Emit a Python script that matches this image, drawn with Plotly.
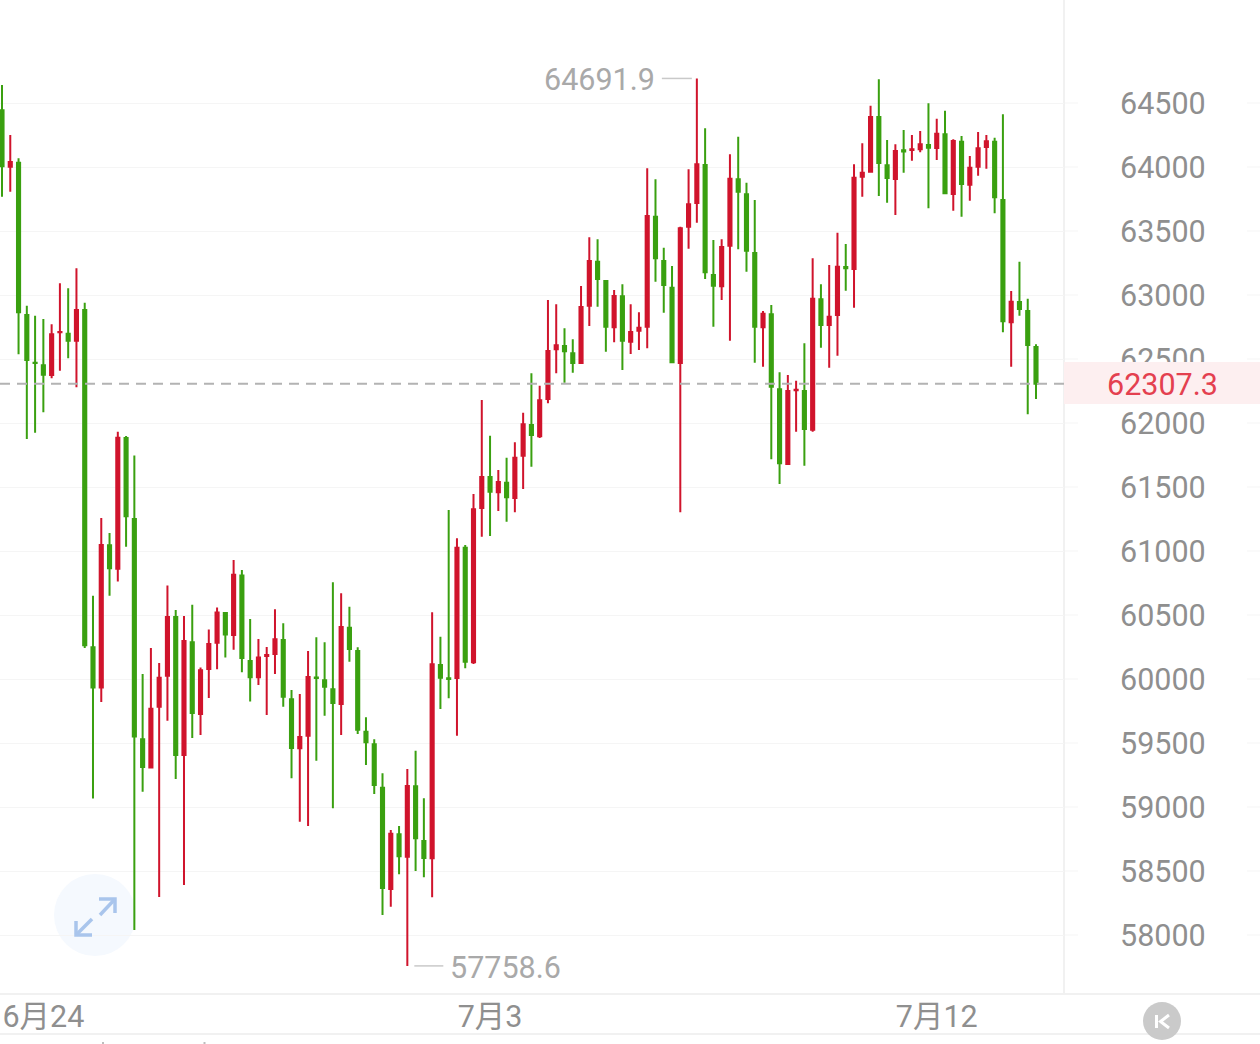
import pandas as pd
import plotly.graph_objects as go

# 4-hour candles, oldest first
opens = [64443, 64002, 64034, 62844, 62471, 62451, 62375, 62709, 62698, 62643,
         62883, 60248, 59933, 61045, 60862, 61883, 61250, 59530, 59308, 59783,
         60025, 60484, 59406, 60287, 59727, 60078, 60284, 60516, 60344, 60809,
         60141, 60013, 60180, 60195, 60305, 59841, 59459, 59557, 60012, 59990,
         59920, 59805, 60401, 60219, 59588, 59490, 59151, 58359, 58787, 58612,
         59162, 58734, 58599, 60109, 60005, 60008, 61026, 60130, 61336, 61578,
         61459, 61534, 61414, 61745, 61984, 61896, 62188, 62576, 62602, 62545,
         62469, 62916, 63260, 63109, 62748, 62990, 62635, 62721, 62752, 63612,
         63266, 63057, 62469, 63534, 63719, 64016, 63156, 63068, 63385, 63904,
         63787, 63328, 62748, 62849, 62263, 61680, 62256, 62250, 61948, 62966,
         62766, 62844, 63219, 63203, 63924, 63963, 64391, 64013, 63906, 64130,
         64133, 64138, 64172, 64148, 64256, 63789, 64198, 63862, 64002, 64156,
         64198, 63742, 62787, 62945, 62875, 62594]
highs = [64641, 64250, 64068, 62916, 62838, 62813, 62771, 63091, 63052, 63209,
         62940, 60651, 61258, 61141, 61931, 61898, 61746, 60039, 60242, 60125,
         60730, 60539, 60492, 60580, 60089, 60387, 60559, 60523, 60930, 60852,
         60469, 60313, 60250, 60545, 60435, 59914, 59883, 60219, 60326, 60287,
         60756, 60670, 60565, 60248, 59701, 59529, 59263, 58820, 58852, 59297,
         59440, 59068, 60521, 60331, 61320, 61099, 61047, 61445, 62180, 61901,
         61633, 61729, 61849, 62081, 62388, 62291, 62961, 62927, 62740, 62654,
         63070, 63451, 63435, 63117, 63039, 63084, 62927, 62865, 63990, 63904,
         63370, 63227, 63534, 63982, 64691.9, 64302, 63430, 63435, 64099, 64237,
         63877, 63742, 62875, 62922, 62396, 62375, 62331, 62623, 63287, 63084,
         63234, 63487, 63398, 64021, 64185, 64479, 64685, 64211, 64177, 64289,
         64250, 64281, 64498, 64377, 64440, 64216, 64242, 64086, 64273, 64250,
         64229, 64412, 63031, 63260, 62971, 62615]
lows = [63768, 63807, 62537, 61875, 61924, 62084, 62349, 62409, 62506, 62279,
        60242, 59067, 59820, 60651, 60762, 61034, 58039, 59120, 59300, 58297,
        59674, 59219, 58391, 59539, 59563, 59852, 60076, 60168, 60229, 60052,
        59825, 59953, 59719, 60039, 59784, 59224, 58885, 58852, 59362, 59713,
        58990, 59563, 60135, 59570, 59328, 59102, 58156, 58221, 58474, 57758.6,
        58500, 58451, 58295, 59766, 59849, 59557, 60084, 60117, 61112, 61117,
        61313, 61229, 61302, 61484, 61659, 61883, 62154, 62388, 62315, 62393,
        62461, 62758, 62909, 62557, 62631, 62414, 62539, 62570, 62584, 63104,
        62862, 62466, 61302, 63362, 63565, 63125, 62752, 62961, 62643, 63357,
        63182, 62471, 62440, 61717, 61523, 61672, 61932, 61666, 61932, 62588,
        62432, 62526, 63034, 62901, 63768, 63955, 63773, 63721, 63625, 63955,
        64049, 64115, 63677, 64055, 63787, 63659, 63612, 63737, 63932, 63987,
        63638, 62709, 62440, 62838, 62068, 62188]
closes = [64006, 64039, 62865, 62492, 62469, 62377, 62693, 62711, 62643, 62883,
          60263, 59933, 61047, 60865, 61884, 61271, 59550, 59313, 59767, 60009,
          60484, 59406, 60297, 59734, 60068, 60274, 60520, 60348, 60815, 60164,
          60013, 60168, 60188, 60310, 59862, 59461, 59547, 60016, 60008, 59940,
          59813, 60406, 60234, 59604, 59506, 59172, 58367, 58791, 58615, 59164,
          58755, 58602, 60115, 60010, 60000, 61026, 60135, 61326, 61578, 61463,
          61539, 61420, 61729, 61990, 61906, 62177, 62563, 62607, 62560, 62469,
          62906, 63266, 63125, 62752, 62992, 62643, 62711, 62745, 63617, 63287,
          63078, 62474, 63521, 63709, 64021, 63177, 63073, 63375, 63909, 63807,
          63346, 62752, 62854, 62284, 61685, 62250, 62260, 61953, 62971, 62766,
          62830, 63221, 63209, 63916, 63956, 64391, 64031, 63914, 64125, 64122,
          64138, 64177, 64151, 64260, 63795, 64203, 63867, 63995, 64146, 64201,
          63763, 62795, 62948, 62891, 62609, 62307.3]

first_bar = "2024-06-23 04:00"
date_ticks = ["2024-06-24 00:00", "2024-07-03 00:00", "2024-07-12 00:00"]
date_labels = ["6月24", "7月3", "7月12"]
price_ticks = list(range(58000, 65000, 500))

last_price = 62307.3
period_high = 64691.9
period_low = 57758.6
high_bar = highs.index(period_high)
low_bar = lows.index(period_low)

FONT = "Roboto, 'Noto Sans CJK SC', sans-serif"
SIZE = 30.5
UP = "#d0142c"
DOWN = "#3aa010"
GRID = "#f5f5f5"
RULE = "#f1f1f1"
W, H, PLOT_W, PLOT_H = 1260, 1044, 1064, 993

times = pd.date_range(first_bar, periods=len(opens), freq="4h")


def px(x):
    return x / PLOT_W


def py(y):
    return 1 - y / PLOT_H


def paper_line(x0, y0, x1, y1, color, width, layer="below"):
    return dict(type="line", xref="paper", yref="paper", x0=px(x0), y0=py(y0),
                x1=px(x1), y1=py(y1), line=dict(color=color, width=width), layer=layer)


def paper_path(points, color, width):
    d = "M" + " L".join(f"{px(x):.5f},{py(y):.5f}" for x, y in points)
    return dict(type="path", xref="paper", yref="paper", path=d,
                line=dict(color=color, width=width), layer="above")


def paper_circle(cx, cy, r, fill, layer):
    return dict(type="circle", xref="paper", yref="paper", x0=px(cx - r), x1=px(cx + r),
                y0=py(cy + r), y1=py(cy - r), fillcolor=fill, line_width=0, layer=layer)


fig = go.Figure(go.Candlestick(
    x=times, open=opens, high=highs, low=lows, close=closes,
    increasing=dict(line=dict(color=UP, width=2), fillcolor=UP),
    decreasing=dict(line=dict(color=DOWN, width=2), fillcolor=DOWN),
    whiskerwidth=0, hoverinfo="skip",
))

shapes = []

# grid stubs either side of the price labels, right of the plot edge
for p in price_ticks:
    for a, b in ((PLOT_W, 1078), (1247, W)):
        shapes.append(dict(type="line", xref="paper", yref="y", x0=px(a), x1=px(b),
                           y0=p, y1=p, line=dict(color=GRID, width=1), layer="below"))

# frame rules
shapes.append(paper_line(PLOT_W, 0, PLOT_W, 994, RULE, 2))
shapes.append(paper_line(0, 994, W, 994, RULE, 2))
shapes.append(paper_line(0, 1034, W, 1034, RULE, 2))

# tips of the row cut off by the bottom edge
shapes.append(paper_line(103, 1042, 103, 1044, "#bdbdbd", 2))
shapes.append(paper_line(204.5, 1042, 204.5, 1044, "#bdbdbd", 2))

# expand button behind the candles
shapes.append(paper_circle(95, 915, 41, "#f5f9fe", "below"))
ARROW = "#a9c5ec"
shapes.append(paper_path([(99, 899), (115, 899), (115, 913)], ARROW, 3.5))
shapes.append(paper_path([(115, 899), (100, 915)], ARROW, 3.5))
shapes.append(paper_path([(76, 921), (76, 935), (92, 935)], ARROW, 3.5))
shapes.append(paper_path([(76, 935), (92, 919)], ARROW, 3.5))

# last price line and its tag
shapes.append(dict(type="line", xref="paper", yref="y", x0=0, x1=1,
                   y0=last_price, y1=last_price, layer="above",
                   line=dict(color="#b3b3b3", width=2, dash="10px,7px")))
shapes.append(dict(type="rect", xref="paper", yref="paper", x0=1, x1=px(W),
                   y0=py(404), y1=py(362), fillcolor="#fdeff0", line_width=0, layer="above"))

# leader ticks for the period extremes
shapes.append(dict(type="line", xref="x", yref="y", xsizemode="pixel", xanchor=times[high_bar],
                   x0=-35, x1=-5, y0=period_high, y1=period_high,
                   line=dict(color="#c9c9c9", width=1.5), layer="above"))
shapes.append(dict(type="line", xref="x", yref="y", xsizemode="pixel", xanchor=times[low_bar],
                   x0=7, x1=36, y0=period_low, y1=period_low,
                   line=dict(color="#c9c9c9", width=1.5), layer="above"))

# collapse button, bottom right
shapes.append(paper_circle(1162, 1021, 19, "#cacaca", "above"))
shapes.append(paper_path([(1156.5, 1015), (1156.5, 1028)], "#ffffff", 3))
shapes.append(paper_path([(1169, 1015), (1160.5, 1021.5), (1169, 1028)], "#ffffff", 3))

annotations = [
    dict(x=times[high_bar], y=period_high, xref="x", yref="y", xshift=-40, yshift=-1,
         xanchor="right", yanchor="middle", showarrow=False, text=f"{period_high:.1f}",
         font=dict(family=FONT, size=SIZE, color="#a9a9a9")),
    dict(x=times[low_bar], y=period_low, xref="x", yref="y", xshift=41, yshift=-2,
         xanchor="left", yanchor="middle", showarrow=False, text=f"{period_low:.1f}",
         font=dict(family=FONT, size=SIZE, color="#a9a9a9")),
    dict(x=px(1162.5), y=py(385), xref="paper", yref="paper", xanchor="center",
         yanchor="middle", showarrow=False, text=f"{last_price:.1f}",
         font=dict(family=FONT, size=SIZE, color="#e4404f")),
]

fig.update_layout(
    width=W, height=H, autosize=False,
    margin=dict(l=0, r=W - PLOT_W, t=0, b=H - PLOT_H),
    paper_bgcolor="#ffffff", plot_bgcolor="#ffffff",
    showlegend=False, boxgap=0.46,
    shapes=shapes, annotations=annotations,
    xaxis=dict(
        type="date", rangeslider=dict(visible=False), showgrid=False, zeroline=False,
        range=[times[0] - pd.Timedelta(hours=4 * 0.242), times[0] + pd.Timedelta(hours=4 * 128.385)],
        tickmode="array", tickvals=date_ticks, ticktext=date_labels, ticks="", ticklabelstandoff=2,
        tickfont=dict(family=FONT, size=SIZE, color="#8f8f8f"),
    ),
    yaxis=dict(
        side="right", range=[57546.9, 65304.7], showgrid=True, gridcolor=GRID, gridwidth=1,
        zeroline=False, tickmode="array", tickvals=price_ticks,
        ticktext=[str(p) for p in price_ticks], ticks="", ticklabelstandoff=55,
        tickfont=dict(family=FONT, size=SIZE, color="#8f8f8f"),
    ),
)

fig.write_html("out.html", config=dict(displayModeBar=False))
